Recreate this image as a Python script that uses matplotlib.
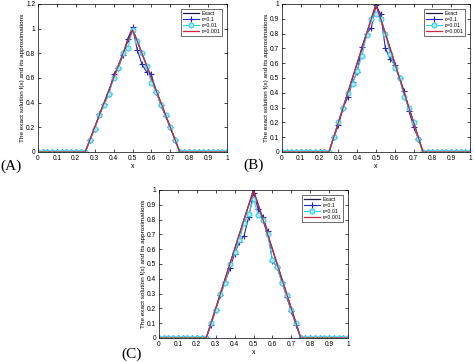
import matplotlib
matplotlib.use("Agg")
import matplotlib.pyplot as plt
import numpy as np

plt.rcParams["font.family"] = ["Liberation Sans", "DejaVu Sans"]

x = [round(0.025 * i, 3) for i in range(41)]
z11 = [0.0] * 11  # zeros from 0 to 0.25
z10 = [0.0] * 10  # zeros from 0.775 to 1

exact_mid = [0.1, 0.2, 0.3, 0.4, 0.5, 0.6, 0.7, 0.8, 0.9, 1.0,
             0.9, 0.8, 0.7, 0.6, 0.5, 0.4, 0.3, 0.2, 0.1, 0.0]

# panel A
a_e1 = [0.1, 0.19, 0.31, 0.39, 0.47, 0.63, 0.68, 0.79, 0.92, 1.01,
        0.83, 0.71, 0.65, 0.63, 0.49, 0.38, 0.29, 0.2, 0.1, 0.0]
a_e2 = [0.1, 0.19, 0.3, 0.38, 0.47, 0.6, 0.68, 0.8, 0.84, 0.99,
        0.9, 0.8, 0.7, 0.56, 0.49, 0.38, 0.3, 0.2, 0.1, 0.0]
a_e3 = [0.1, 0.2, 0.3, 0.4, 0.5, 0.6, 0.7, 0.8, 0.9, 0.99,
        0.9, 0.8, 0.7, 0.6, 0.5, 0.4, 0.3, 0.2, 0.1, 0.0]

# panel B
b_e1 = [0.1, 0.18, 0.3, 0.37, 0.47, 0.54, 0.71, 0.8, 0.84, 0.99,
        0.93, 0.7, 0.63, 0.59, 0.5, 0.41, 0.28, 0.17, 0.09, 0.0]
b_e2 = [0.1, 0.2, 0.3, 0.4, 0.46, 0.55, 0.65, 0.79, 0.9, 0.93,
        0.9, 0.8, 0.66, 0.57, 0.5, 0.37, 0.3, 0.2, 0.09, 0.0]
b_e3 = [0.1, 0.2, 0.3, 0.4, 0.5, 0.6, 0.7, 0.8, 0.9, 0.99,
        0.9, 0.8, 0.7, 0.6, 0.5, 0.4, 0.3, 0.2, 0.1, 0.0]

# panel C
c_e1 = [0.09, 0.19, 0.29, 0.38, 0.47, 0.57, 0.65, 0.69, 0.82, 0.98,
        0.87, 0.82, 0.72, 0.52, 0.48, 0.38, 0.28, 0.18, 0.09, 0.0]
c_e2 = [0.1, 0.19, 0.3, 0.37, 0.5, 0.58, 0.66, 0.78, 0.84, 0.94,
        0.83, 0.8, 0.7, 0.53, 0.48, 0.37, 0.29, 0.19, 0.1, 0.0]
c_e3 = [0.1, 0.2, 0.3, 0.4, 0.5, 0.6, 0.7, 0.8, 0.9, 0.99,
        0.9, 0.8, 0.7, 0.6, 0.5, 0.4, 0.3, 0.2, 0.1, 0.0]

legend_labels = ["Exact", "\u03b5=0.1", "\u03b5=0.01", "\u03b5=0.001"]


def full(mid):
    return z11 + mid + z10


def draw_panel(fig, rect, e1, e2, e3, ymax, yticks, tag, tag_xy):
    ax = fig.add_axes(rect)
    ax.plot(x, full(exact_mid), color="#1c1c3c", lw=0.9, label=legend_labels[0])
    ax.plot(x, full(e1), color="#2828b8", lw=0.8, marker="+", ms=4, mew=0.8,
            label=legend_labels[1])
    ax.plot(x, full(e2), color="#30d0e8", lw=0.8, marker="o", ms=3.5, mew=0.8,
            mfc="#a8eaf4", label=legend_labels[2])
    ax.plot(x, full(e3), color="#c8283c", lw=0.9, label=legend_labels[3])
    ax.set_xlim(0, 1)
    ax.set_ylim(0, ymax)
    ax.set_xticks(np.round(np.arange(0, 1.01, 0.1), 1))
    ax.set_xticklabels(["0", "0.1", "0.2", "0.3", "0.4", "0.5", "0.6", "0.7",
                        "0.8", "0.9", "1"])
    ax.set_yticks(yticks)
    ax.set_yticklabels([f"{v:g}" for v in yticks])
    ax.tick_params(direction="in", length=2, width=0.5, labelsize=4.8,
                   top=True, right=True, pad=2)
    for s in ax.spines.values():
        s.set_linewidth(0.5)
    ax.set_xlabel("x", fontsize=5, labelpad=1)
    ax.set_ylabel("The exact solution f(x) and its approximations",
                  fontsize=4.6, labelpad=1)
    leg = ax.legend(loc="upper right", fontsize=3.8, frameon=True,
                    fancybox=False, edgecolor="black", handlelength=3.2,
                    borderpad=0.35, labelspacing=0.2, borderaxespad=0.9,
                    handletextpad=0.4)
    leg.get_frame().set_linewidth(0.5)
    fig.text(tag_xy[0], tag_xy[1], tag, fontsize=11, family="Liberation Serif",
             ha="left", va="center")
    return ax


W, H = 474, 362
fig = plt.figure(figsize=(W / 100, H / 100), dpi=100)


def rect(l, t, r, b):
    return [l / W, 1 - b / H, (r - l) / W, (b - t) / H]


draw_panel(fig, rect(38, 4, 227, 152), a_e1, a_e2, a_e3, 1.2,
           [0, 0.2, 0.4, 0.6, 0.8, 1, 1.2], "(A)", (0 / W, 1 - 166 / H))
draw_panel(fig, rect(282, 4, 470, 152), b_e1, b_e2, b_e3, 1.0,
           [round(0.1 * i, 1) for i in range(11)], "(B)", (243 / W, 1 - 165 / H))
draw_panel(fig, rect(159, 190, 348, 338), c_e1, c_e2, c_e3, 1.0,
           [round(0.1 * i, 1) for i in range(11)], "(C)", (121 / W, 1 - 354 / H))

fig.savefig("out.png", dpi=100)
